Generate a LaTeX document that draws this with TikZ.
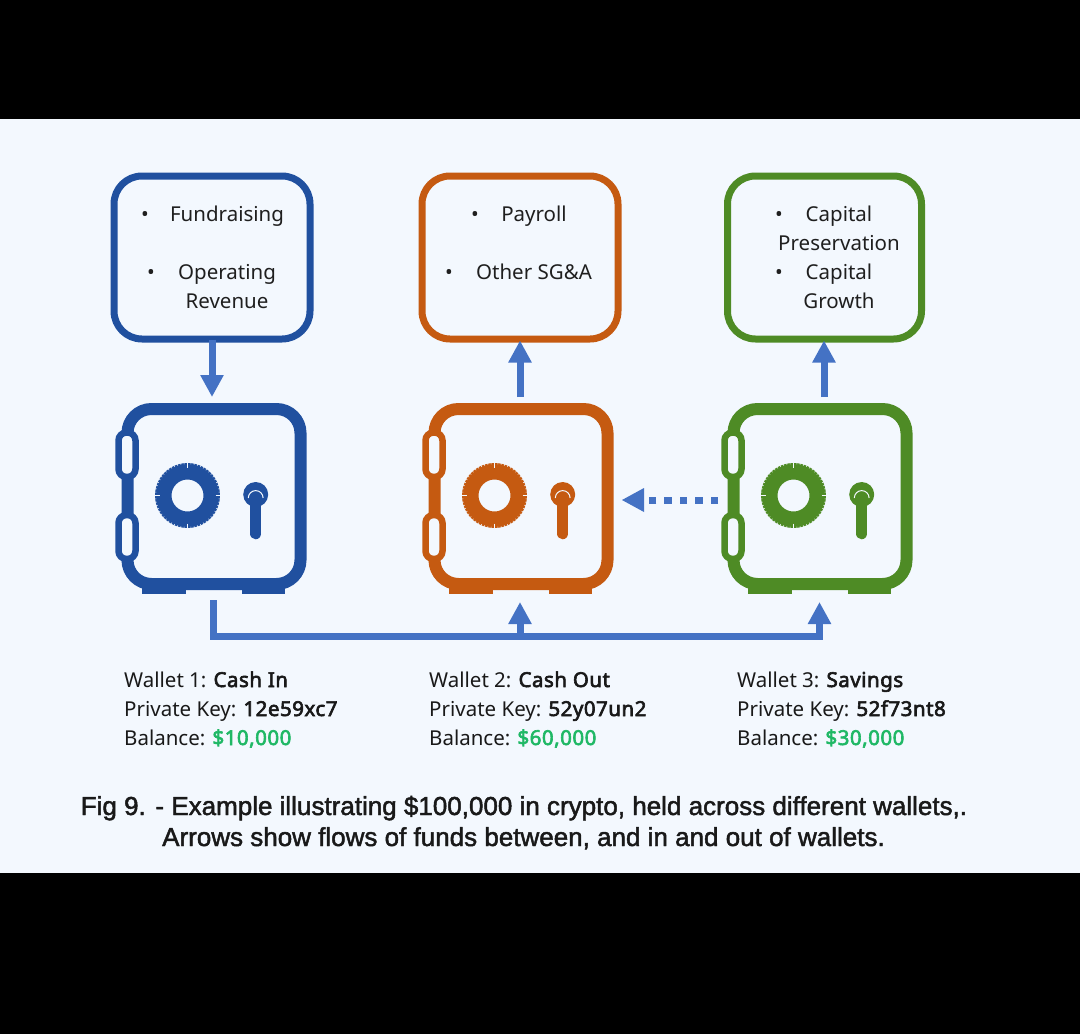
\documentclass[tikz,border=0pt]{standalone}
\usepackage{fontspec}
\setmainfont{Noto Sans}
\newfontfamily\capfont[FakeBold=1.8]{Liberation Sans}
\newfontfamily\heavy[FakeBold=3,LetterSpace=2.5]{Noto Sans}
\usetikzlibrary{arrows.meta}
\definecolor{panel}{HTML}{F3F8FE}
\definecolor{cblue}{HTML}{20509F}
\definecolor{corange}{HTML}{C55A11}
\definecolor{cgreen}{HTML}{4E8B25}
\definecolor{flow}{HTML}{4472C4}
\definecolor{money}{HTML}{1FB865}
\newcommand{\hv}[1]{{\heavy #1}}
\newcommand{\safeicon}[2]{%
 \begin{scope}[shift={(#1,0)}]
  \draw[#2,line width=12pt,rounded corners=24pt] (127.5,409) rectangle (300.5,584);
  \fill[#2] (142,584) rectangle (186,593.5);
  \fill[#2] (241.5,584) rectangle (285,593.5);
  \draw[#2,fill=panel,line width=6.5pt,rounded corners=8pt] (118.5,432.5) rectangle (135.5,477);
  \draw[#2,fill=panel,line width=6.5pt,rounded corners=8pt] (118.5,515) rectangle (135.5,559);
  \fill[#2,even odd rule] (187.5,495.5) circle (32.5pt) (187.5,495.5) circle (16pt);
  \foreach \aa in {0,6,...,354}{
    \draw[panel,line width=.5pt] (187.5,495.5) ++(\aa:31.3pt) -- ++(\aa:1.7pt);
  }
  \foreach \aa in {0,90,180,270}{
    \draw[panel,line width=.7pt] (187.5,495.5) ++(\aa:28pt) -- ++(\aa:5pt);
  }
  \fill[#2] (255.7,494.5) circle (12.5pt);
  \draw[panel,line width=1pt] (248.3,498) arc[start angle=180,end angle=0,radius=7.4pt];
  \draw[#2,line width=11.5pt,line cap=round] (255.7,498) -- (255.7,533.5);
 \end{scope}}
\tikzset{
 x=1pt,y=-1pt,
 dest/.style={draw=#1,line width=7pt,rounded corners=28pt,fill=none,minimum width=196pt,minimum height=163pt,inner sep=0pt},
 safenode/.style={draw=none,fill=none,inner sep=0pt,outer sep=0pt,minimum width=185pt,minimum height=203pt},
 flowline/.style={draw=flow,line width=7pt},
 flowarrow/.style={flowline,-{Triangle[length=22pt,width=22pt]}},
 boxtxt/.style={font=\fontsize{20.5}{24}\selectfont,text=black!88,inner sep=0pt,anchor=base},
 info/.style={font=\fontsize{20.5}{24}\selectfont,text=black!90,inner sep=0pt,anchor=base west},
 captxt/.style={font=\capfont\fontsize{26}{30}\selectfont,text=black!90,inner sep=0pt,anchor=base},
}
\begin{document}
\begin{tikzpicture}
\useasboundingbox (0,0) rectangle (1080,1034);
\fill[black] (0,0) rectangle (1080,1034);
\fill[panel] (0,119) rectangle (1080,873);
% destination boxes
\node[dest=cblue] (box1) at (212,257.5) {};
\node[dest=corange] (box2) at (520,257.5) {};
\node[dest=cgreen,minimum width=194pt] (box3) at (824.5,257.5) {};
% box text
\node[boxtxt] (b1a) at (145,221) {•};
\node[boxtxt] (t1a) at (227,221) {Fundraising};
\node[boxtxt] (b1b) at (151,279) {•};
\node[boxtxt] (t1b) at (227,279) {Operating};
\node[boxtxt] (t1c) at (227,308) {Revenue};
\node[boxtxt] (b2a) at (475,221) {•};
\node[boxtxt] (t2a) at (534,221) {Payroll};
\node[boxtxt] (b2b) at (449,279) {•};
\node[boxtxt] (t2b) at (534,279) {Other SG\&A};
\node[boxtxt] (b3a) at (779,221) {•};
\node[boxtxt] (t3a) at (839,221) {Capital};
\node[boxtxt] (t3b) at (839,250) {Preservation};
\node[boxtxt] (b3b) at (779,279) {•};
\node[boxtxt] (t3c) at (839,279) {Capital};
\node[boxtxt] (t3d) at (839,308) {Growth};
% safes
\safeicon{0}{cblue}
\safeicon{307}{corange}
\safeicon{606}{cgreen}
\node[safenode] (safe1) at (213.5,498.5) {};
\node[safenode] (safe2) at (520.5,498.5) {};
\node[safenode] (safe3) at (819.5,498.5) {};
\coordinate (railL) at (213.5,636);
\coordinate (railM) at (520,636);
\coordinate (railR) at (819.5,636);
\coordinate (tipM) at (520,602);
\coordinate (tipR) at (819.5,602);
% flows
\draw[flowarrow,shorten <=-3pt] (212,0 |- box1.south) -- (212,0 |- safe1.north);
\draw[flowarrow,shorten >=-2pt] (520,0 |- safe2.north) -- (520,0 |- box2.south);
\draw[flowarrow,shorten >=-2pt] (824,0 |- safe3.north) -- (824,0 |- box3.south);
\draw[flowarrow,line join=miter] (safe1.south) -- (railL) -- (railR) -- (tipR);
\draw[flowarrow] (railM) -- (tipM);
\draw[draw=flow,line width=7.5pt,dash pattern=on 7.5pt off 7.9pt] (718,500.5) -- (646,500.5);
\fill[flow] (622,500) -- (644,488) -- (644,512) -- cycle;
% wallet text
\node[info] (w1a) at (124,687) {Wallet 1: \hv{Cash In}};
\node[info] (w1b) at (124,716) {Private Key: \hv{12e59xc7}};
\node[info] (w1c) at (124,745) {Balance: \textcolor{money}{\hv{\$10,000}}};
\node[info] (w2a) at (429,687) {Wallet 2: \hv{Cash Out}};
\node[info] (w2b) at (429,716) {Private Key: \hv{52y07un2}};
\node[info] (w2c) at (429,745) {Balance: \textcolor{money}{\hv{\$60,000}}};
\node[info] (w3a) at (737,687) {Wallet 3: \hv{Savings}};
\node[info] (w3b) at (737,716) {Private Key: \hv{52f73nt8}};
\node[info] (w3c) at (737,745) {Balance: \textcolor{money}{\hv{\$30,000}}};
% caption
\node[captxt] (cap1) at (524,815) {Fig 9. - Example illustrating \$100,000 in crypto, held across different wallets,.};
\node[captxt] (cap2) at (523.5,846) {Arrows show flows of funds between, and in and out of wallets.};
\end{tikzpicture}
\end{document}
